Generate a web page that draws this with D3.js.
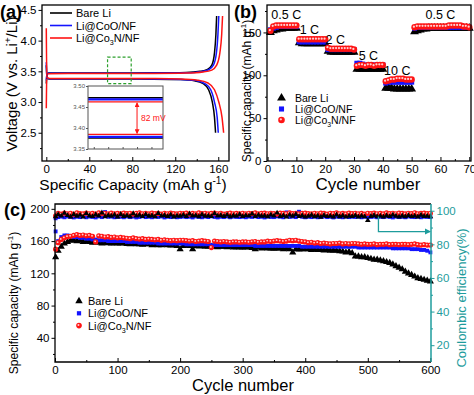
<!DOCTYPE html>
<html>
<head>
<meta charset="utf-8">
<script src="https://cdn.jsdelivr.net/npm/d3@7"></script>
<style>
  body { margin: 0; background: #fff; }
  svg { display: block; font-family: "Liberation Sans", Arial, sans-serif; }
</style>
</head>
<body>
<svg id="fig" width="474" height="395"></svg>
<script>
// ---------- data ----------
const seriesNames = ['Bare Li', 'Li@CoO/NF', 'Li@Co3N/NF'];
const seriesColors = ['#000000', '#1414ff', '#ff1414'];
const TEAL = '#1e9c9c';

// (a) voltage profiles: capacity / voltage for charge and discharge
const aBareChgCap = [0, 0.6, 2, 20, 60, 100, 130, 143, 150, 154, 156.5, 157.8, 158.5];
const aBareChgV   = [3.30, 3.45, 3.472, 3.473, 3.473, 3.475, 3.482, 3.50, 3.53, 3.60, 3.80, 4.10, 4.40];
const aCoOChgCap  = [0, 0.6, 2, 20, 60, 100, 130, 144, 151, 155.5, 158.3, 159.7, 160.5];
const aCoOChgV    = [3.35, 3.45, 3.468, 3.469, 3.469, 3.471, 3.478, 3.495, 3.525, 3.60, 3.80, 4.10, 4.40];
const aCoNChgCap  = [0, 0.5, 2, 20, 60, 100, 130, 146, 154, 158.5, 161.5, 163.2, 164];
const aCoNChgV    = [2.90, 3.44, 3.462, 3.463, 3.463, 3.465, 3.472, 3.49, 3.52, 3.60, 3.80, 4.10, 4.40];

const aBareDisCap = [0, 0.6, 3, 20, 60, 100, 125, 138, 146, 151, 154.5, 156.5, 157.5];
const aBareDisV   = [3.60, 3.39, 3.377, 3.377, 3.376, 3.373, 3.365, 3.345, 3.30, 3.20, 3.00, 2.75, 2.50];
const aCoODisCap  = [0, 0.6, 3, 20, 60, 100, 125, 139, 147.5, 153, 156.5, 159, 160];
const aCoODisV    = [3.65, 3.39, 3.380, 3.380, 3.379, 3.376, 3.368, 3.35, 3.30, 3.20, 3.00, 2.75, 2.50];
const aCoNDisCap  = [0, 0.5, 3, 20, 60, 100, 125, 141, 150.5, 156.5, 160.5, 163.5, 165];
const aCoNDisV    = [4.20, 3.40, 3.385, 3.385, 3.385, 3.382, 3.375, 3.355, 3.31, 3.20, 3.00, 2.75, 2.50];

// inset (zoom of plateaus)
const insetCap = [58, 84];
const insetUpper = [3.472, 3.468, 3.462];
const insetLower = [3.376, 3.379, 3.385];

// (b) rate performance
const bCycles = d3.range(1, 71);
const bBare = [150,152,153,154,154,155,155,155,155,155, 138,137,137,137,137,137,137,137,137,137,
  128,127,127,127,127,127,127,127,127,127, 107,107,107,107,107,107,107,107,107,107,
  85,85,85,84,84,84,84,84,84,84, 151,152,153,154,154,155,155,155,155,155,155,155,155,155,155,155,155,155,155,155];
const bCoO = [153,155,156,157,157,157,157,157,157,157, 139,139,139,139,139,139,139,139,139,139,
  130,130,130,130,130,130,130,130,130,130, 114,114,113,112,112,112,112,112,112,112,
  91,92,92,92,92,92,92,92,92,92, 155,156,156,156,156,156,156,156,156,156,156,156,156,156,156,156,156,156,156,156];
const bCoN = [152,157,158,158,158,158,158,158,158,158, 142,142,142,142,142,142,142,142,142,142,
  132,131,131,131,131,131,131,131,131,130, 111,112,112,111,112,112,111,112,112,112,
  93,94,95,95,96,96,96,95,95,95, 156,157,157,157,157,157,157,157,157,157,157,157,158,158,158,158,158,157,157,156];
const bRates = ['0.5 C', '1 C', '2 C', '5 C', '10 C', '0.5 C'];
const bRateX = [6.5, 14.5, 23.5, 35, 45, 60];
const bRateY = [166, 148, 137, 118, 100, 166];

// (c) long cycling, every 5th cycle
const cCycles = [1].concat(d3.range(5, 601, 5));
const cBareCap = [140,148,153,157,159,160.5,161,160,160.5,159,159.5,159,158,158.5,158,157,158,157.5,157,157.5,157,
  157,157.5,156.5,156,156.5,156,156,155.5,156,156,155,155.5,155,155,155.5,155,154.5,155,154,150,
  154,154.5,154,150,154,153.5,154,153,153.5,153,153,152.5,153,153,152.5,153,152,152.5,152,152,
  152,152.5,151.5,150,152,151,151.5,151,151,150.5,151,151,150,150.5,150,146,150,149.5,150,150,
  150,149,149.5,149,149,148.5,149,148,148.5,148,147.5,147,146,146.5,145,141,141,140,140,139,
  138,137,137,136,135,134,133,131,129,127,125,122,120,118,116,114,113,112,111,110];
const cCoOCap = [172,160,165,167,167,166,165,165,164,164,163,163,162,162,161,161,161,160,160,160,160,
  160,160,159,159,159,159,158,158,158,158,158,158,157,157,157,157,157,157,157,157,
  157,156,156,156,156,156,156,156,156,155,155,155,155,155,155,155,155,155,155,155,
  155,155,155,154,154,154,154,154,154,154,154,154,154,154,154,154,154,154,153,153,
  153,153,153,153,153,153,153,153,153,153,153,153,153,153,153,153,152,152,152,152,
  152,152,152,152,152,152,152,151,151,151,151,151,151,150,150,150,149,149,148,146];
const cCoNCap = [150,158,162,164,165.5,166,167,168,167,167.5,166.5,167,166,159,166.5,166,165,165.5,164.5,165,164,
  164.5,164,163.5,163,164,163,162.5,163,162,162.5,162,161.5,162,161,161.5,161,160.5,161,160.5,161,
  161,160.5,160,160.5,159.5,160,160.5,160,159.5,152,160,159.5,159,159.5,159,158.5,159,159,158.5,159,
  159,158.5,159,159.5,158.5,159,159,160,159.5,160,160.5,160,159.5,160,161,160.5,161,160,159.5,159,
  158,158.5,157.5,158,157,157.5,157,156.5,157,157,157.5,156.5,157,156.5,157,157,156.5,156,156.5,156,
  156,156.5,155.5,156,156,156.5,155.5,156,156,155.5,156,156,155.5,156,156.5,155.5,155,155.5,155,155];

const cBareCE = [96.5,97.8,96.9,98.6,97.2,96.4,97.9,96.8,97.5,96.3,98.4,97.0,96.6,97.7,96.9,98.8,96.5,97.3,96.8,97.6,96.4,
  97.9,96.7,97.2,96.5,98.3,96.9,97.4,96.6,97.8,96.8,97.1,96.5,98.5,96.9,97.3,96.7,97.6,96.4,97.0,96.8,
  97.5,96.6,98.2,96.9,97.2,96.5,97.7,96.8,97.0,96.6,98.4,96.9,97.3,96.7,97.5,96.5,97.1,96.8,97.8,96.6,
  97.2,96.9,98.1,96.6,97.4,96.8,97.0,96.5,97.6,96.9,98.7,96.7,97.2,96.4,97.5,96.8,97.9,96.6,97.1,96.3,
  96.8,97.4,96.5,97.0,96.2,97.3,96.6,96.9,96.4,97.6,96.5,97.1,96.3,96.8,96.6,97.2,96.4,96.9,96.5,94.2,
  96.7,97.3,96.5,96.9,96.4,97.1,96.6,97.5,96.8,96.3,97.0,96.5,97.2,96.6,96.9,96.4,97.4,96.7,96.8,96.5];
const cCoOCE = [95.5,96.2,96.5,96.1,96.6,96.3,96.0,96.4,96.2,96.7,96.1,96.5,96.3,96.0,96.6,96.2,99.2,96.4,96.5,96.1,96.3,
  96.4,96.1,96.6,96.2,96.5,96.0,96.3,96.7,96.2,96.4,96.1,96.5,96.3,96.6,96.0,96.4,96.2,96.5,96.1,96.3,
  96.5,96.2,96.4,96.0,96.6,96.3,96.1,96.5,96.2,96.7,96.3,96.0,96.4,96.2,96.6,96.1,96.5,96.3,96.2,96.4,
  96.1,96.5,96.3,96.6,96.2,96.4,96.0,96.5,96.3,96.2,96.6,96.4,96.1,99.0,96.3,96.5,96.2,99.4,96.4,96.1,
  96.4,96.2,96.5,96.1,96.3,96.6,96.2,96.4,96.0,96.5,96.3,96.1,96.6,96.2,96.4,96.3,96.5,96.1,96.4,96.2,
  96.3,96.5,96.1,96.4,96.2,96.6,96.3,96.0,96.5,96.2,96.4,96.1,96.6,96.3,96.2,96.5,96.1,96.4,96.3,96.2];
const cCoNCE = [97.0,98.4,98.0,98.6,98.2,98.5,97.9,98.7,98.3,98.1,98.6,98.2,98.4,98.0,98.7,98.3,98.5,98.1,98.6,98.2,98.4,
  98.1,98.6,98.3,98.5,98.0,98.4,98.7,98.2,98.5,98.1,98.6,98.3,98.4,98.0,98.5,98.2,98.6,98.3,98.1,98.5,
  98.3,98.6,98.0,98.4,98.2,98.7,98.3,98.5,98.1,98.4,98.6,98.2,98.5,98.0,98.3,98.6,98.2,98.4,98.1,98.5,
  98.2,98.5,98.3,98.7,98.1,98.4,98.6,98.2,98.5,98.3,98.0,98.6,98.4,98.2,98.7,98.3,98.5,98.1,98.4,98.6,
  98.3,98.1,98.5,98.2,98.6,98.4,98.0,98.5,98.3,98.7,98.2,98.4,98.1,98.6,98.3,98.5,98.2,98.4,98.0,98.5,
  98.3,98.6,98.2,98.4,98.1,98.7,98.3,98.5,98.2,98.6,98.4,98.1,98.5,98.3,98.8,98.2,98.4,98.6,98.3,98.5];

// ---------- helpers ----------
const svg = d3.select('#fig');

// text with sub/superscripts: parts = [[text, ''|'sub'|'sup'], ...]
function rich(sel, parts, size) {
  let shift = 0;
  parts.forEach(([t, k]) => {
    const target = k === 'sup' ? -0.38 * size : (k === 'sub' ? 0.3 * size : 0);
    sel.append('tspan')
      .attr('dy', target - shift)
      .attr('font-size', k ? size * 0.65 : size)
      .text(t);
    shift = target;
  });
  return sel;
}

function nameParts(name) {
  if (name === 'Li@Co3N/NF') return [['Li@Co', ''], ['3', 'sub'], ['N/NF', '']];
  return [[name, '']];
}

function styleAxis(g, size, color) {
  g.select('.domain').remove();
  g.selectAll('line').attr('stroke', color || '#000').attr('stroke-width', 1);
  g.selectAll('text').attr('font-size', size).attr('fill', color || '#000')
    .attr('font-family', '"Liberation Sans", Arial, sans-serif');
}

function bottomAxis(g, scale, y, major, minor, fmt) {
  g.append('g').attr('transform', 'translate(0,' + y + ')')
    .call(d3.axisBottom(scale).tickValues(minor).tickSize(-2).tickFormat(''))
    .call(a => styleAxis(a, 11));
  g.append('g').attr('transform', 'translate(0,' + y + ')')
    .call(d3.axisBottom(scale).tickValues(major).tickSize(-4).tickPadding(4).tickFormat(fmt))
    .call(a => styleAxis(a, 11.5));
}

function leftAxis(g, scale, x, major, minor, fmt) {
  g.append('g').attr('transform', 'translate(' + x + ',0)')
    .call(d3.axisLeft(scale).tickValues(minor).tickSize(2).tickFormat(''))
    .call(a => styleAxis(a, 11));
  g.append('g').attr('transform', 'translate(' + x + ',0)')
    .call(d3.axisLeft(scale).tickValues(major).tickSize(3.5).tickPadding(2).tickFormat(fmt))
    .call(a => styleAxis(a, 11.5));
}

function sym(type, size) {
  return d3.symbol().type(type).size(size)();
}

function drawMarkers(g, xs, ys, xScale, yScale, idx, size) {
  const pts = xs.map((x, i) => [xScale(x), yScale(ys[i])]);
  if (idx === 2) {
    const r = size;
    g.append('g').selectAll('circle').data(pts).enter().append('circle')
      .attr('cx', d => d[0]).attr('cy', d => d[1]).attr('r', r)
      .attr('fill', seriesColors[2]);
    g.append('g').selectAll('circle').data(pts).enter().append('circle')
      .attr('cx', d => d[0] - r * 0.2).attr('cy', d => d[1] - r * 0.2).attr('r', r * 0.35)
      .attr('fill', '#ffd0d0');
  } else {
    const path = idx === 0 ? sym(d3.symbolTriangle, size) : sym(d3.symbolSquare, size);
    g.append('g').selectAll('path').data(pts).enter().append('path')
      .attr('d', path)
      .attr('transform', d => 'translate(' + d[0] + ',' + d[1] + ')')
      .attr('fill', seriesColors[idx]);
  }
}

function panelLabel(x, y, t) {
  svg.append('text').attr('x', x).attr('y', y).attr('font-size', 18)
    .attr('font-weight', 'bold').text(t);
}

// ---------- panel (a) ----------
const xA = d3.scaleLinear().domain([-4, 170]).range([42, 229]);
const yA = d3.scaleLinear().domain([2.04, 4.58]).range([161, 5]);
const gA = svg.append('g');

svg.append('clipPath').attr('id', 'clipA').append('rect')
  .attr('x', 42).attr('y', 5).attr('width', 187).attr('height', 156);

const lineA = d3.line().x(d => xA(d[0])).y(d => yA(d[1])).curve(d3.curveMonotoneX);
const aCurves = [
  [aBareChgCap, aBareChgV, 0], [aCoOChgCap, aCoOChgV, 1], [aCoNChgCap, aCoNChgV, 2],
  [aBareDisCap, aBareDisV, 0], [aCoODisCap, aCoODisV, 1], [aCoNDisCap, aCoNDisV, 2]
];
const curveG = gA.append('g').attr('clip-path', 'url(#clipA)');
aCurves.forEach(([cap, v, i]) => {
  curveG.append('path')
    .attr('d', lineA(cap.map((c, k) => [c, v[k]])))
    .attr('fill', 'none').attr('stroke', seriesColors[i]).attr('stroke-width', 1.5);
});

// dashed green box marking the zoomed region
gA.append('rect')
  .attr('x', xA(57)).attr('y', yA(3.73))
  .attr('width', xA(79) - xA(57)).attr('height', yA(3.30) - yA(3.73))
  .attr('fill', 'none').attr('stroke', '#2ca02c').attr('stroke-width', 1.2)
  .attr('stroke-dasharray', '3,2');

bottomAxis(gA, xA, 161, [0, 40, 80, 120, 160], [20, 60, 100, 140], d3.format('d'));
leftAxis(gA, yA, 42, [2.5, 3.0, 3.5, 4.0, 4.5], [2.25, 2.75, 3.25, 3.75, 4.25], d3.format('.1f'));
gA.append('rect').attr('x', 42).attr('y', 5).attr('width', 187).attr('height', 156)
  .attr('fill', 'none').attr('stroke', '#000').attr('stroke-width', 1.3);

// legend (a)
seriesNames.forEach((n, i) => {
  const y = 13 + i * 12.5;
  gA.append('line').attr('x1', 50).attr('x2', 72).attr('y1', y).attr('y2', y)
    .attr('stroke', seriesColors[i]).attr('stroke-width', 1.6);
  rich(gA.append('text').attr('x', 76).attr('y', y + 4), nameParts(n), 11);
});

// inset
const xI = d3.scaleLinear().domain(insetCap).range([88, 163]);
const yI = d3.scaleLinear().domain([3.35, 3.50]).range([149, 86]);
const gI = gA.append('g');
gI.append('rect').attr('x', 88).attr('y', 86).attr('width', 75).attr('height', 63).attr('fill', '#fff');
const insetW = [1.4, 2.2, 1.2];
[0, 1, 2].forEach(i => {
  [insetUpper[i], insetLower[i]].forEach(v => {
    gI.append('line').attr('x1', xI(insetCap[0])).attr('x2', xI(insetCap[1]))
      .attr('y1', yI(v)).attr('y2', yI(v))
      .attr('stroke', seriesColors[i]).attr('stroke-width', insetW[i]);
  });
});
gI.append('g').attr('transform', 'translate(88,0)')
  .call(d3.axisLeft(yI).tickValues([3.35, 3.40, 3.45, 3.50]).tickSize(2).tickPadding(1).tickFormat(d3.format('.2f')))
  .call(a => styleAxis(a, 6, '#555'));
gI.append('g').attr('transform', 'translate(0,149)')
  .call(d3.axisBottom(xI).tickValues([60, 65, 70, 75, 80]).tickSize(-2).tickFormat(''))
  .call(a => styleAxis(a, 6, '#555'));
gI.append('rect').attr('x', 88).attr('y', 86).attr('width', 75).attr('height', 63)
  .attr('fill', 'none').attr('stroke', '#555').attr('stroke-width', 1);

svg.append('defs').html(
  '<marker id="arrR" viewBox="0 0 6 6" refX="5" refY="3" markerWidth="5" markerHeight="5" orient="auto-start-reverse">' +
  '<path d="M0,0 L6,3 L0,6 z" fill="#ff1414"/></marker>' +
  '<marker id="arrT" viewBox="0 0 6 6" refX="5" refY="3" markerWidth="5" markerHeight="5" orient="auto">' +
  '<path d="M0,0 L6,3 L0,6 z" fill="' + TEAL + '"/></marker>');
gI.append('line').attr('x1', xI(75)).attr('x2', xI(75))
  .attr('y1', yI(insetUpper[2]) + 1).attr('y2', yI(insetLower[2]) - 1)
  .attr('stroke', '#ff1414').attr('stroke-width', 1)
  .attr('marker-start', 'url(#arrR)').attr('marker-end', 'url(#arrR)');
gI.append('text').attr('x', xI(75) + 4).attr('y', yI((insetUpper[2] + insetLower[2]) / 2) + 3)
  .attr('font-size', 8.5).attr('fill', '#ff1414').text('82 mV');

// axis titles (a)
rich(gA.append('text').attr('x', 133).attr('y', 190).attr('text-anchor', 'middle'),
  [['Specific Capacity (mAh g', ''], ['-1', 'sup'], [')', '']], 15.5);
rich(gA.append('text').attr('transform', 'translate(17,84) rotate(-90)').attr('text-anchor', 'middle'),
  [['Voltage (V vs. Li', ''], ['+', 'sup'], ['/Li)', '']], 15);
panelLabel(0, 18, '(a)');

// ---------- panel (b) ----------
const xB = d3.scaleLinear().domain([-0.2, 70.6]).range([267, 471]);
const yB = d3.scaleLinear().domain([0, 182]).range([161, 5]);
const gB = svg.append('g');

drawMarkers(gB, bCycles, bBare, xB, yB, 0, 34);
drawMarkers(gB, bCycles, bCoO, xB, yB, 1, 26);
drawMarkers(gB, bCycles, bCoN, xB, yB, 2, 3.2);

bottomAxis(gB, xB, 161, [0, 10, 20, 30, 40, 50, 60, 70], [5, 15, 25, 35, 45, 55, 65], d3.format('d'));
leftAxis(gB, yB, 267, [0, 50, 100, 150], [25, 75, 125, 175], d3.format('d'));
gB.append('rect').attr('x', 267).attr('y', 5).attr('width', 204).attr('height', 156)
  .attr('fill', 'none').attr('stroke', '#000').attr('stroke-width', 1.3);

bRates.forEach((t, i) => {
  gB.append('text').attr('x', xB(bRateX[i])).attr('y', yB(bRateY[i]))
    .attr('text-anchor', 'middle').attr('font-size', 12.5).text(t);
});

// legend (b)
seriesNames.forEach((n, i) => {
  const y = 98 + i * 11;
  drawMarkers(gB, [0], [0], () => 281.5, () => y, i, i === 0 ? 34 : (i === 1 ? 26 : 3.3));
  rich(gB.append('text').attr('x', 295).attr('y', y + 4), nameParts(n), 10.5);
});

rich(gB.append('text').attr('x', 368).attr('y', 190).attr('text-anchor', 'middle'),
  [['Cycle number', '']], 17);
rich(gB.append('text').attr('transform', 'translate(251,91) rotate(-90)').attr('text-anchor', 'middle'),
  [['Specific capacity (mAh g', ''], ['-1', 'sup'], [')', '']], 12);
panelLabel(234, 18, '(b)');

// ---------- panel (c) ----------
const xC = d3.scaleLinear().domain([0, 601]).range([55, 431]);
const yC = d3.scaleLinear().domain([10, 206]).range([362, 204]);
const yCE = d3.scaleLinear().domain([10, 104]).range([362, 204]);
const gC = svg.append('g');

drawMarkers(gC, cCycles, cBareCap, xC, yC, 0, 22);
drawMarkers(gC, cCycles, cCoOCap, xC, yC, 1, 15);
drawMarkers(gC, cCycles, cCoNCap, xC, yC, 2, 2.6);
drawMarkers(gC, cCycles, cCoOCE, xC, yCE, 1, 15);
drawMarkers(gC, cCycles, cCoNCE, xC, yCE, 2, 2.6);
drawMarkers(gC, cCycles, cBareCE, xC, yCE, 0, 14);

bottomAxis(gC, xC, 362, [0, 100, 200, 300, 400, 500, 600], [50, 150, 250, 350, 450, 550], d3.format('d'));
leftAxis(gC, yC, 55, [40, 80, 120, 160, 200], [20, 60, 100, 140, 180], d3.format('d'));
gC.append('g').attr('transform', 'translate(431,0)')
  .call(d3.axisRight(yCE).tickValues([30, 50, 70, 90]).tickSize(2).tickFormat(''))
  .call(a => styleAxis(a, 11, TEAL));
gC.append('g').attr('transform', 'translate(431,0)')
  .call(d3.axisRight(yCE).tickValues([20, 40, 60, 80, 100]).tickSize(3.5).tickPadding(2).tickFormat(d3.format('d')))
  .call(a => styleAxis(a, 11.5, TEAL));

gC.append('path').attr('d', 'M431,204 H55 V362 H431')
  .attr('fill', 'none').attr('stroke', '#000').attr('stroke-width', 1.3);
gC.append('line').attr('x1', 431).attr('x2', 431).attr('y1', 204).attr('y2', 362)
  .attr('stroke', TEAL).attr('stroke-width', 1.5);

// arrow pointing to CE axis
gC.append('path')
  .attr('d', 'M' + xC(517) + ',' + yCE(96.5) + ' V' + yCE(87.6) + ' H' + (xC(601) - 1))
  .attr('fill', 'none').attr('stroke', TEAL).attr('stroke-width', 1.3)
  .attr('marker-end', 'url(#arrT)');

// legend (c)
seriesNames.forEach((n, i) => {
  const y = 301 + i * 12.3;
  drawMarkers(gC, [0], [0], () => 79, () => y, i, i === 0 ? 24 : (i === 1 ? 18 : 2.8));
  rich(gC.append('text').attr('x', 88).attr('y', y + 4), nameParts(n), 11);
});

rich(gC.append('text').attr('x', 243).attr('y', 391).attr('text-anchor', 'middle'),
  [['Cycle number', '']], 16.5);
rich(gC.append('text').attr('transform', 'translate(18,303) rotate(-90)').attr('text-anchor', 'middle'),
  [['Specific capacity (mAh g', ''], ['-1', 'sup'], [')', '']], 12);
rich(gC.append('text').attr('transform', 'translate(466,298) rotate(-90)').attr('text-anchor', 'middle')
  .attr('fill', TEAL), [['Coulombic efficiency(%)', '']], 13);
panelLabel(4, 216, '(c)');
</script>
</body>
</html>
